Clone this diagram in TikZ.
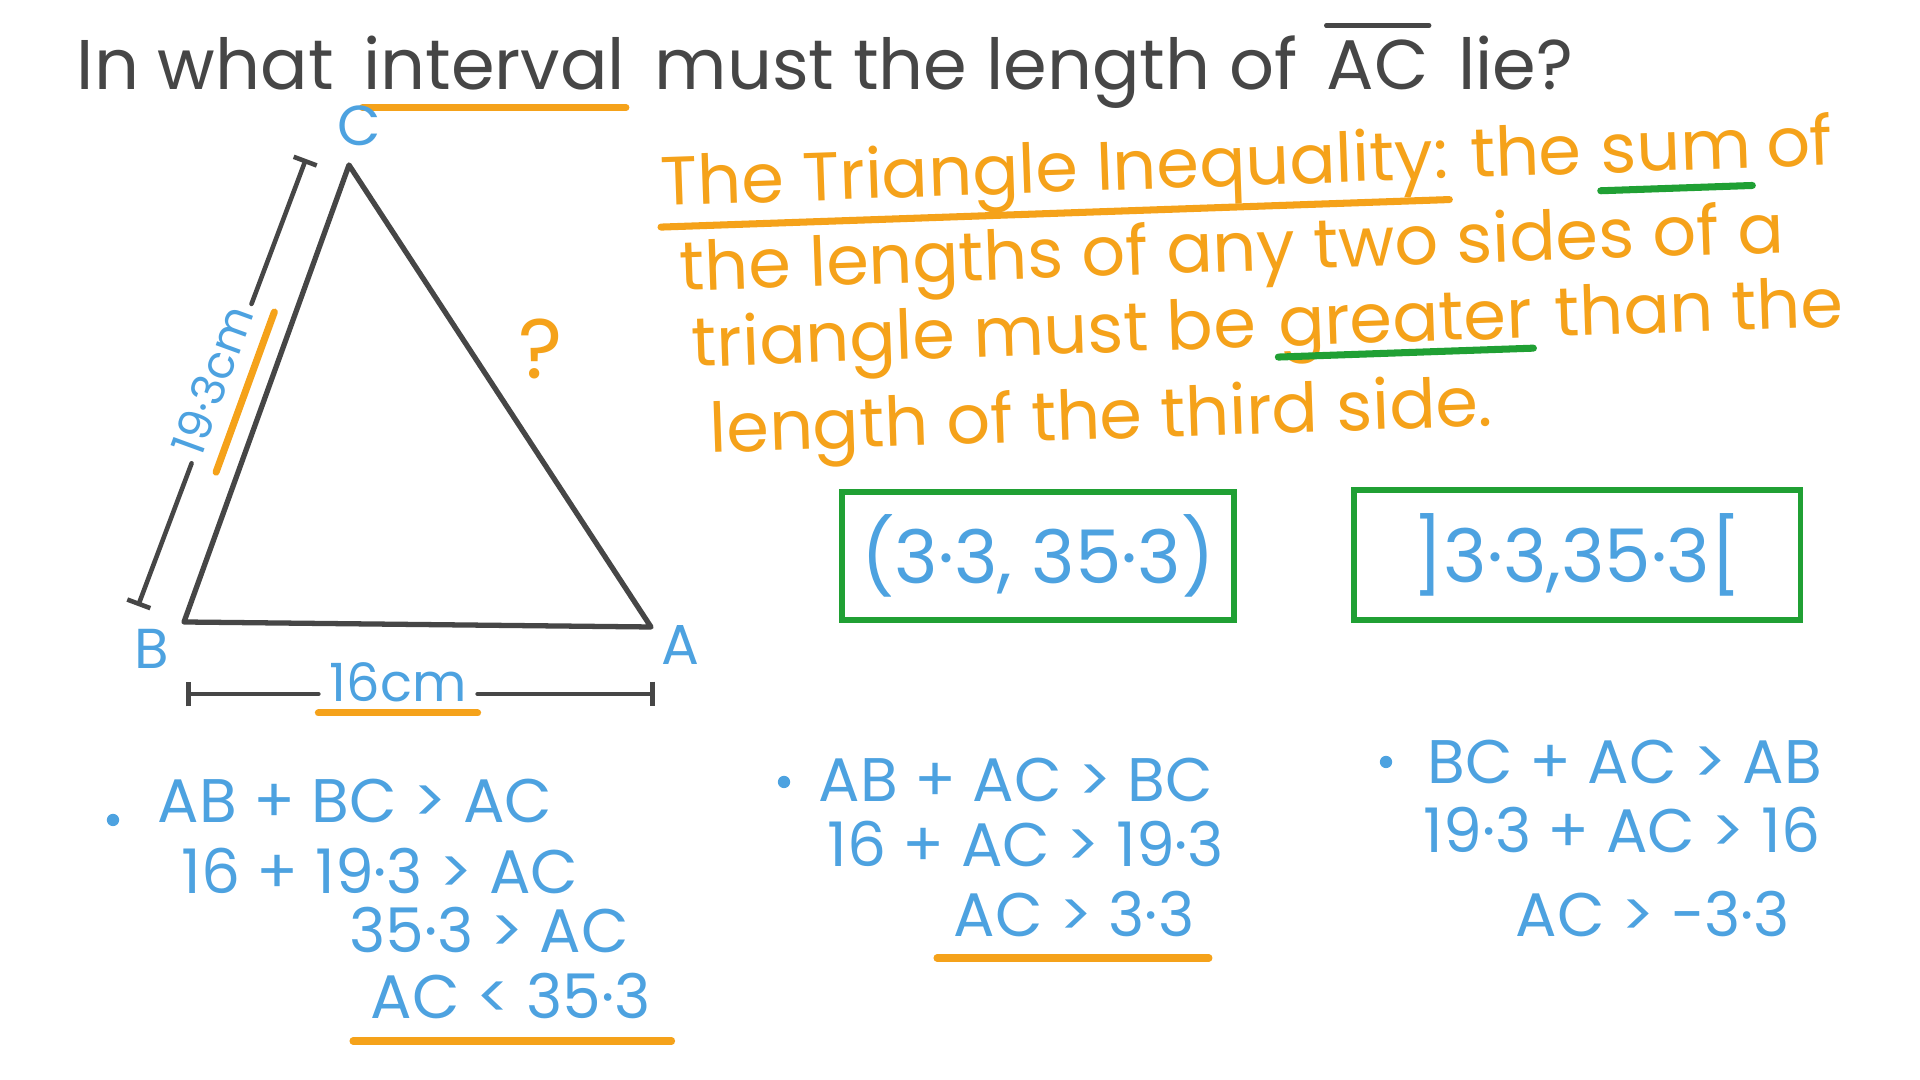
\documentclass[tikz,border=0pt]{standalone}
\usepackage{fontspec}
\setmainfont{Poppins}
\usetikzlibrary{arrows.meta,calc}

\definecolor{inkgray}{HTML}{464646}
\definecolor{inkblue}{HTML}{4DA2E0}
\definecolor{inkorange}{HTML}{F5A21A}
\definecolor{inkgreen}{HTML}{20A034}

\tikzset{
  head/.style={anchor=base west, inner sep=0pt, text=inkgray, font=\fontsize{20}{23}\selectfont},
  note/.style={anchor=base west, inner sep=0pt, text=inkorange, rotate=2, font=\fontsize{19.5}{22}\selectfont},
  nextword/.style={xshift=#1},
  nextword/.default=8pt,
  eqn/.style={anchor=base west, inner sep=0pt, text=inkblue, font=\fontsize{17.5}{20}\selectfont},
  dot/.style={circle, fill=inkblue, inner sep=0pt, minimum size=3.5pt},
  vertex/.style={text=inkblue, font=\fontsize{16}{19}\selectfont},
  sideline/.style={inkgray, line width=1.5pt, line join=round},
  dimline/.style={inkgray, line width=1.3pt},
  hl/.style={inkorange, line width=2pt},
  hlgreen/.style={inkgreen, line width=2pt},
  answer/.style={draw=inkgreen, line width=1.5pt, text=inkblue, font=\fontsize{21}{25}\selectfont}
}

\begin{document}
\begin{tikzpicture}[x=0.01cm, y=-0.01cm, line cap=round]
  \useasboundingbox[fill=white] (0,0) rectangle (1920,1080);

  % question
  \node[head] (q1) at (76,90) {In what};
  \node[head, nextword] (q2) at (q1.base east) {interval};
  \node[head, nextword] (q3) at (q2.base east) {must the length of};
  \node[head, nextword] (q4) at (q3.base east) {AC};
  \node[head, nextword] (q5) at (q4.base east) {lie?};
  \draw[hl] ([yshift=-5pt]q2.base west) -- ([yshift=-5pt]q2.base east);
  \draw[inkgray, line width=1.2pt] ([yshift=4pt]q4.north west) -- ([yshift=4pt]q4.north east);

  % triangle
  \coordinate (B) at (184,622);
  \coordinate (C) at (349,165);
  \coordinate (A) at (651,627);
  \draw[sideline] (B) -- (C) -- (A) -- cycle;
  \node[vertex] (labC) at (359,126) {C};
  \node[vertex] (labB) at (152,649) {B};
  \node[vertex] (labA) at (680,645) {A};
  \node[text=inkorange, font=\fontsize{24}{28}\selectfont] (unknown) at (541,349) {?};

  % side BC
  \coordinate (dimbot) at (138,606);
  \coordinate (dimtop) at (306,159);
  \node[vertex, rotate=70, font=\fontsize{13}{15}\selectfont, inner xsep=2pt, inner ysep=5pt] (len19) at (212,380) {19·3cm};
  \draw[dimline, {Bar[width=7pt]}-] (dimbot) -- ($(dimbot)!(len19.west)!(dimtop)$);
  \draw[dimline, -{Bar[width=7pt]}] ($(dimbot)!(len19.east)!(dimtop)$) -- (dimtop);
  \draw[hl] (len19.south west) -- (len19.south east);

  % side AB
  \coordinate (dimL) at (186,694);
  \coordinate (dimR) at (655,694);
  \node[vertex, font=\fontsize{15}{18}\selectfont, inner sep=3pt] (len16) at (398,682) {16cm};
  \draw[dimline, {Bar[width=7pt]}-] (dimL) -- (dimL -| len16.west);
  \draw[dimline, -{Bar[width=7pt]}] (dimR -| len16.east) -- (dimR);
  \draw[hl] (len16.south west) -- (len16.south east);

  % the rule
  \node[note] (p1) at (661,206) {The Triangle Inequality:};
  \node[note, nextword=6pt] (p2) at (p1.base east) {the};
  \node[note, nextword=5pt] (p3) at (p2.base east) {sum};
  \node[note, nextword=4pt] (p4) at (p3.base east) {of};
  \node[note] (p5) at (680,291) {the lengths of any two sides of a};
  \node[note] (p6) at (692,367) {triangle must be};
  \node[note, nextword=6pt] (p7) at (p6.base east) {greater};
  \node[note, nextword=6pt] (p8) at (p7.base east) {than the};
  \node[note] (p9) at (710,453) {length of the third side.};
  \draw[hl] ([yshift=-6pt]p1.base west) -- ([yshift=-6pt]p1.base east);
  \draw[hlgreen] ([yshift=-5pt]p3.base west) -- ([yshift=-5pt]p3.base east);
  \draw[hlgreen] ([yshift=-3pt]p7.base west) -- ([yshift=-3pt]p7.base east);

  % answers
  \node[answer, minimum width=3.92cm, minimum height=1.28cm] (ans1) at (1038,556) {(3·3, 35·3)};
  \node[answer, minimum width=4.46cm, minimum height=1.30cm] (ans2) at (1577,555) {]3·3,35·3[};

  % AB + BC > AC
  \node[dot] (d1) at (113,820) {};
  \node[eqn] (e1) at (157,823) {AB + BC > AC};
  \node[eqn] (e2) at (181,894) {16 + 19·3 > AC};
  \node[eqn] (e3) at (349,953) {35·3 > AC};
  \node[eqn] (e4) at (370,1019) {AC < 35·3};
  \draw[hl] ([shift={(-17,22)}]e4.base west) -- ([shift={(20,22)}]e4.base east);

  % AB + AC > BC
  \node[dot] (d2) at (784,782) {};
  \node[eqn] (m1) at (818,802) {AB + AC > BC};
  \node[eqn] (m2) at (827,867) {16 + AC > 19·3};
  \node[eqn] (m3) at (953,937) {AC > 3·3};
  \draw[hl] ([shift={(-16,21)}]m3.base west) -- ([shift={(14,21)}]m3.base east);

  % BC + AC > AB
  \node[dot] (d3) at (1386,762) {};
  \node[eqn] (r1) at (1427,784) {BC + AC > AB};
  \node[eqn] (r2) at (1423,853) {19·3 + AC > 16};
  \node[eqn] (r3) at (1515,937) {AC > −3·3};
\end{tikzpicture}
\end{document}
